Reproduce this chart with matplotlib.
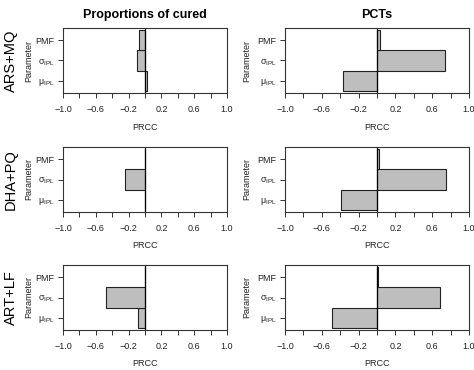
import numpy as np
import matplotlib
matplotlib.use('Agg')
import matplotlib.pyplot as plt

plt.rcParams['font.family'] = ['Liberation Sans', 'DejaVu Sans']

# data: PRCC per parameter (order: mu_IPL, sigma_IPL, PMF)
params = ['μ$_{\\mathregular{IPL}}$', 'σ$_{\\mathregular{IPL}}$', 'PMF']
rows = ['ARS+MQ', 'DHA+PQ', 'ART+LF']
cols = ['Proportions of cured', 'PCTs']
cured = [[0.025, -0.10, -0.07],
         [0.005, -0.25, 0.005],
         [-0.08, -0.48, 0.005]]
pcts = [[-0.37, 0.74, 0.03],
        [-0.39, 0.745, 0.025],
        [-0.49, 0.69, 0.01]]
xticks = [-1.0, -0.8, -0.6, -0.4, -0.2, 0.0, 0.2, 0.4, 0.6, 0.8, 1.0]
xticklabels = ['\u22121.0', '', '\u22120.6', '', '\u22120.2', '', '0.2', '', '0.6', '', '1.0']

W, H = 474, 370
fig = plt.figure(figsize=(W / 100, H / 100), dpi=100)

col_x = [(63, 164), (285, 184)]
row_y = [(28, 93), (147, 212), (265, 330)]

for r in range(3):
    for c in range(2):
        x0, w = col_x[c]
        top, bot = row_y[r]
        h = bot - top
        ax = fig.add_axes([x0 / W, 1 - bot / H, w / W, h / H])
        vals = cured[r] if c == 0 else pcts[r]
        y = np.arange(len(params))
        ax.barh(y, vals, height=1.0, color='#bebebe', edgecolor='#222222', linewidth=0.8)
        ax.axvline(0, color='black', linewidth=0.9)
        ax.set_xlim(-1, 1)
        ax.set_ylim(-0.62, 2.62)
        ax.set_xticks(xticks)
        ax.set_xticklabels(xticklabels, fontsize=6.5, color='#222222')
        ax.set_yticks(y)
        ax.set_yticklabels(params, fontsize=6.5, color='#222222')
        ax.tick_params(axis='both', direction='out', length=3.6, width=0.7, color='#333333')
        ax.tick_params(axis='x', pad=5)
        ax.tick_params(axis='y', pad=2.5)
        for s in ax.spines.values():
            s.set_linewidth(0.8)
            s.set_color('#333333')
        ax.set_xlabel('PRCC', fontsize=6.5, color='#222222', va='center')
        ax.xaxis.set_label_coords(0.5, -34 / h)
        ax.set_ylabel('Parameter', fontsize=6.5, color='#222222', va='center')
        ax.yaxis.set_label_coords(-0.207, 0.5)
        if r == 0:
            ax.text(0.5, 1 + 13 / h, cols[c], transform=ax.transAxes,
                    fontsize=9, fontweight='bold', ha='center', va='center')
    fig.text(11 / W, 1 - ((row_y[r][0] + row_y[r][1]) / 2) / H, rows[r],
             rotation=90, fontsize=10.5, ha='center', va='center')

fig.savefig('out.png', dpi=100)
